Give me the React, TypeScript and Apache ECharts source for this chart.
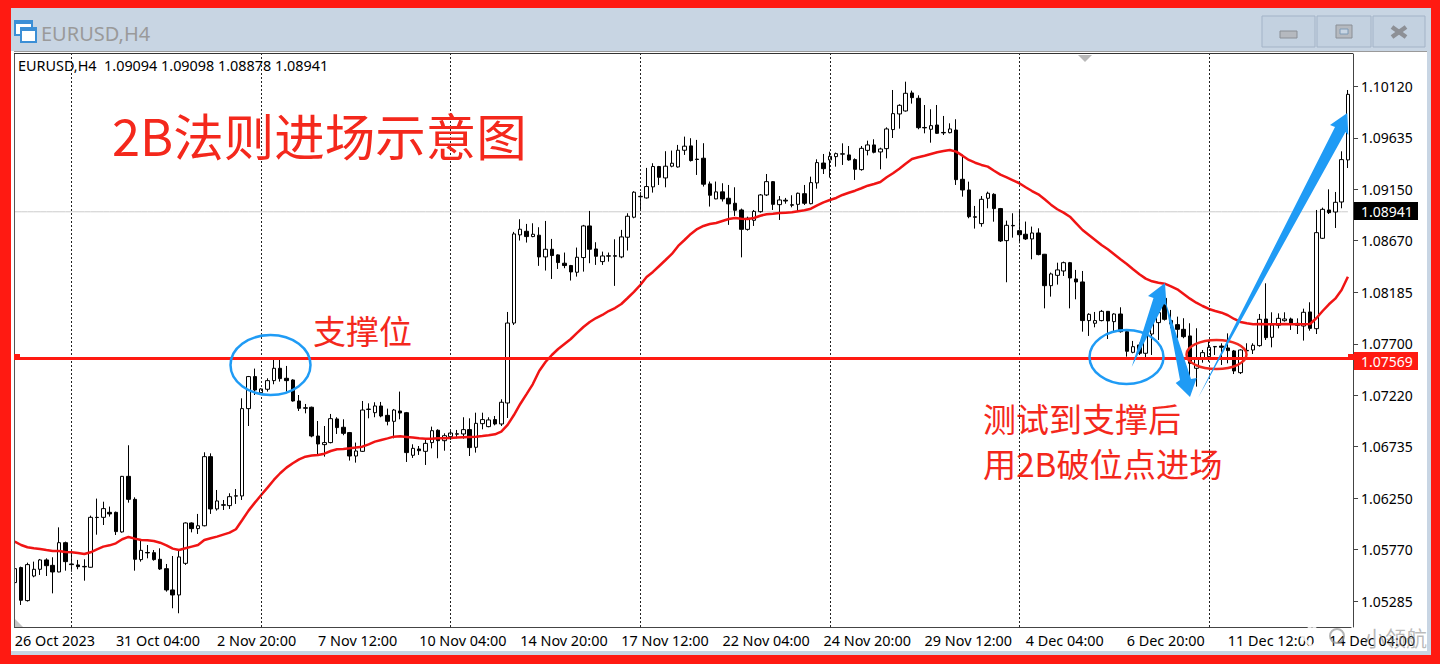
import React, { useEffect, useRef } from "react";
import * as echarts from "echarts";

const xTickLabels = ["26 Oct 2023", "31 Oct 04:00", "2 Nov 20:00", "7 Nov 12:00", "10 Nov 04:00", "14 Nov 20:00", "17 Nov 12:00", "22 Nov 04:00", "24 Nov 20:00", "29 Nov 12:00", "4 Dec 04:00", "6 Dec 20:00", "11 Dec 12:00", "14 Dec 04:00"];
const yTicks = [1.05285, 1.0577, 1.0625, 1.06735, 1.0722, 1.077, 1.08185, 1.0867, 1.0915, 1.09635, 1.1012];
const weekLines = [9, 39, 69, 99, 129, 159, 189];
const supportPrice = 1.07569;
const lastPrice = 1.08941;

const opens = [
1.05458,1.05599,1.05289,1.05520,1.05583,1.05671,1.05620,1.05558,1.05833,1.05633,
1.05624,1.05610,1.05602,1.06071,1.06071,1.06118,1.06118,1.05934,1.06456,1.06240,
1.05674,1.05741,1.05739,1.05677,1.05589,1.05389,1.05342,1.05639,1.06018,1.05965,
1.05992,1.06641,1.06150,1.06189,1.06181,1.06270,1.06272,1.07092,1.07393,1.07242,
1.07274,1.07355,1.07471,1.07377,1.07361,1.07164,1.07100,1.07105,1.06835,1.06754,
1.06773,1.06995,1.06917,1.06867,1.06647,1.06691,1.07084,1.07054,1.07117,1.07029,
1.06973,1.07070,1.07054,1.06654,1.06713,1.06691,1.06773,1.06889,1.06791,1.06829,
1.06852,1.06854,1.06895,1.06729,1.06951,1.06923,1.06989,1.06948,1.07145,1.07896,
1.08724,1.08758,1.08708,1.08721,1.08517,1.08589,1.08536,1.08458,1.08436,1.08373,
1.08511,1.08808,1.08592,1.08473,1.08524,1.08528,1.08517,1.08702,1.08890,1.09082,
1.09071,1.09175,1.09366,1.09259,1.09369,1.09362,1.09519,1.09560,1.09436,1.09444,
1.09203,1.09062,1.09128,1.09068,1.09021,1.08958,1.08776,1.08861,1.08942,1.09099,
1.09224,1.09008,1.09050,1.09007,1.09011,1.09111,1.09017,1.09212,1.09399,1.09428,
1.09459,1.09482,1.09475,1.09431,1.09337,1.09518,1.09569,1.09503,1.09534,1.09713,
1.09860,1.09888,1.10057,1.10007,1.09733,1.09716,1.09756,1.09686,1.09684,1.09709,
1.09246,1.09146,1.08894,1.08830,1.09068,1.09105,1.08971,1.08670,1.08813,1.08764,
1.08730,1.08686,1.08742,1.08542,1.08247,1.08344,1.08385,1.08463,1.08310,1.08282,
1.07919,1.07894,1.07919,1.08006,1.07909,1.07981,1.07815,1.07621,1.07690,1.07612,
1.07793,1.07900,1.08128,1.07919,1.07881,1.07837,1.07775,1.07471,1.07555,1.07580,
1.07672,1.07680,1.07662,1.07634,1.07430,1.07639,1.07643,1.07684,1.07934,1.07762,
1.07875,1.07918,1.07934,1.07893,1.07868,1.08000,1.07843,1.08692,1.08958,1.08939,1.09033,1.09428,
];

const highs = [
1.05671,1.05608,1.05645,1.05655,1.05680,1.05686,1.05696,1.05977,1.05843,1.05718,
1.05671,1.05677,1.06087,1.06247,1.06218,1.06172,1.06125,1.06460,1.06748,1.06259,
1.05858,1.05811,1.05764,1.05780,1.05633,1.05708,1.05764,1.06024,1.06024,1.06103,
1.06682,1.06672,1.06328,1.06234,1.06297,1.06337,1.07189,1.07399,1.07468,1.07283,
1.07377,1.07565,1.07555,1.07493,1.07368,1.07220,1.07136,1.07111,1.06976,1.06929,
1.07042,1.07011,1.06992,1.06873,1.06773,1.07164,1.07142,1.07152,1.07155,1.07092,
1.07089,1.07252,1.07061,1.06757,1.06741,1.06810,1.06923,1.06898,1.06860,1.06892,
1.06892,1.07011,1.07001,1.07054,1.07054,1.07011,1.07023,1.07180,1.08000,1.08752,
1.08871,1.08827,1.08833,1.08796,1.08855,1.08686,1.08542,1.08558,1.08442,1.08605,
1.08818,1.08949,1.08655,1.08567,1.08558,1.08683,1.08771,1.08927,1.09134,1.09125,
1.09353,1.09397,1.09372,1.09510,1.09516,1.09569,1.09647,1.09632,1.09616,1.09585,
1.09225,1.09225,1.09209,1.09193,1.09171,1.08971,1.08895,1.08958,1.09108,1.09296,
1.09230,1.09089,1.09071,1.09096,1.09121,1.09193,1.09271,1.09434,1.09484,1.09506,
1.09497,1.09584,1.09559,1.09443,1.09559,1.09609,1.09622,1.09543,1.09734,1.10085,
1.09951,1.10163,1.10079,1.10035,1.09944,1.09904,1.09944,1.09841,1.09772,1.09810,
1.09475,1.09224,1.08996,1.09089,1.09130,1.09115,1.08977,1.08858,1.08927,1.08958,
1.08849,1.08802,1.08786,1.08545,1.08370,1.08463,1.08473,1.08470,1.08395,1.08385,
1.07988,1.08000,1.08019,1.08009,1.07988,1.08044,1.07822,1.07728,1.07712,1.07800,
1.07909,1.08113,1.08144,1.08019,1.07956,1.07941,1.07894,1.07847,1.07643,1.07737,
1.07680,1.07706,1.07799,1.07643,1.07649,1.07706,1.07706,1.07981,1.08269,1.07997,
1.07987,1.07997,1.07947,1.07940,1.08031,1.08091,1.08958,1.08980,1.09152,1.09127,1.09509,1.10085,
];

const lows = [
1.05232,1.05248,1.05280,1.05508,1.05530,1.05520,1.05357,1.05555,1.05570,1.05561,
1.05583,1.05476,1.05599,1.05908,1.05999,1.06078,1.05905,1.05927,1.06209,1.05570,
1.05655,1.05686,1.05664,1.05577,1.05373,1.05217,1.05170,1.05624,1.05930,1.05915,
1.05986,1.06103,1.06134,1.06140,1.06150,1.06197,1.06234,1.06929,1.07220,1.07230,
1.07252,1.07321,1.07346,1.07252,1.07158,1.07070,1.07048,1.06823,1.06657,1.06641,
1.06766,1.06854,1.06842,1.06604,1.06585,1.06685,1.07001,1.07011,1.07011,1.06935,
1.06813,1.06992,1.06591,1.06629,1.06657,1.06563,1.06719,1.06626,1.06697,1.06798,
1.06813,1.06810,1.06647,1.06679,1.06898,1.06917,1.06935,1.06929,1.07004,1.07878,
1.08671,1.08652,1.08702,1.08433,1.08389,1.08310,1.08404,1.08411,1.08295,1.08332,
1.08379,1.08458,1.08442,1.08442,1.08473,1.08245,1.08505,1.08577,1.08880,1.08949,
1.09065,1.09121,1.09193,1.09171,1.09359,1.09356,1.09475,1.09413,1.09287,1.09178,
1.08990,1.09059,1.09037,1.08818,1.08902,1.08513,1.08764,1.08808,1.08933,1.09089,
1.08958,1.08864,1.09017,1.08983,1.08942,1.09005,1.09011,1.09158,1.09296,1.09262,
1.09365,1.09381,1.09421,1.09240,1.09327,1.09471,1.09490,1.09340,1.09443,1.09634,
1.09722,1.09882,1.09957,1.09716,1.09678,1.09590,1.09672,1.09662,1.09678,1.09193,
1.09083,1.08880,1.08783,1.08801,1.08974,1.08848,1.08657,1.08279,1.08698,1.08645,
1.08676,1.08495,1.08532,1.08034,1.08144,1.08257,1.08338,1.08034,1.08119,1.07815,
1.07775,1.07856,1.07912,1.07746,1.07815,1.07806,1.07580,1.07612,1.07596,1.07555,
1.07596,1.07737,1.07919,1.07847,1.07753,1.07753,1.07377,1.07299,1.07524,1.07533,
1.07596,1.07502,1.07518,1.07417,1.07417,1.07596,1.07605,1.07674,1.07737,1.07668,
1.07846,1.07909,1.07831,1.07793,1.07731,1.07824,1.07793,1.08686,1.08920,1.08789,1.08974,1.09352,
];

const closes = [
1.05589,1.05292,1.05627,1.05583,1.05671,1.05617,1.05558,1.05833,1.05655,1.05627,
1.05608,1.05606,1.06071,1.06069,1.06153,1.06103,1.05937,1.06456,1.06240,1.05677,
1.05761,1.05737,1.05674,1.05586,1.05389,1.05342,1.05699,1.06018,1.05965,1.05992,
1.06641,1.06150,1.06225,1.06185,1.06265,1.06274,1.07092,1.07393,1.07267,1.07277,
1.07355,1.07471,1.07374,1.07355,1.07164,1.07095,1.07096,1.06835,1.06760,1.06773,
1.06998,1.06914,1.06860,1.06647,1.06694,1.07079,1.07088,1.07117,1.07023,1.06973,
1.07079,1.07051,1.06679,1.06719,1.06697,1.06766,1.06885,1.06791,1.06838,1.06863,
1.06856,1.06895,1.06726,1.06954,1.06989,1.06986,1.06948,1.07152,1.07896,1.08733,
1.08777,1.08708,1.08730,1.08517,1.08589,1.08530,1.08464,1.08436,1.08376,1.08514,
1.08808,1.08589,1.08523,1.08526,1.08528,1.08524,1.08705,1.08899,1.09125,1.09086,
1.09178,1.09366,1.09265,1.09369,1.09397,1.09519,1.09557,1.09422,1.09432,1.09200,
1.09096,1.09128,1.09062,1.09015,1.08955,1.08776,1.08880,1.08945,1.09099,1.09224,
1.09011,1.09052,1.09042,1.09003,1.09115,1.09021,1.09215,1.09403,1.09346,1.09462,
1.09487,1.09486,1.09428,1.09340,1.09537,1.09569,1.09500,1.09531,1.09719,1.09863,
1.09941,1.10054,1.10013,1.09731,1.09729,1.09750,1.09678,1.09682,1.09719,1.09243,
1.09146,1.08895,1.08890,1.09058,1.09115,1.08971,1.08667,1.08814,1.08809,1.08726,
1.08686,1.08742,1.08539,1.08247,1.08357,1.08395,1.08463,1.08319,1.08282,1.07919,
1.07978,1.07919,1.08006,1.07916,1.07981,1.07815,1.07631,1.07674,1.07612,1.07784,
1.07900,1.07994,1.07931,1.07887,1.07837,1.07768,1.07518,1.07562,1.07618,1.07668,
1.07676,1.07668,1.07637,1.07446,1.07643,1.07635,1.07687,1.07931,1.07759,1.07878,
1.07940,1.07934,1.07884,1.07875,1.07997,1.07846,1.08745,1.08964,1.08933,1.09030,1.09431,1.10044,
];

const movingAverage = [
1.05843,1.05811,1.05790,1.05780,1.05774,1.05764,1.05755,1.05755,1.05746,1.05743,
1.05736,1.05727,1.05743,1.05771,1.05796,1.05808,1.05827,1.05865,1.05887,1.05871,
1.05858,1.05855,1.05849,1.05833,1.05808,1.05777,1.05764,1.05780,1.05796,1.05811,
1.05858,1.05874,1.05890,1.05909,1.05927,1.05959,1.06046,1.06134,1.06209,1.06281,
1.06350,1.06422,1.06485,1.06538,1.06579,1.06616,1.06641,1.06651,1.06657,1.06669,
1.06694,1.06710,1.06713,1.06719,1.06726,1.06735,1.06757,1.06782,1.06798,1.06813,
1.06829,1.06832,1.06826,1.06820,1.06813,1.06810,1.06810,1.06813,1.06813,1.06817,
1.06820,1.06823,1.06826,1.06829,1.06835,1.06842,1.06851,1.06876,1.06939,1.07032,
1.07136,1.07229,1.07323,1.07446,1.07530,1.07596,1.07652,1.07699,1.07746,1.07803,
1.07859,1.07906,1.07943,1.07972,1.08009,1.08037,1.08075,1.08131,1.08188,1.08253,
1.08329,1.08376,1.08432,1.08488,1.08545,1.08620,1.08676,1.08733,1.08779,1.08808,
1.08826,1.08836,1.08855,1.08873,1.08883,1.08875,1.08873,1.08883,1.08904,1.08918,
1.08923,1.08930,1.08933,1.08936,1.08946,1.08955,1.08970,1.09002,1.09030,1.09052,
1.09071,1.09099,1.09120,1.09139,1.09162,1.09186,1.09202,1.09221,1.09265,1.09303,
1.09346,1.09393,1.09437,1.09453,1.09468,1.09484,1.09500,1.09512,1.09522,1.09506,
1.09468,1.09428,1.09402,1.09381,1.09365,1.09327,1.09290,1.09265,1.09237,1.09209,
1.09171,1.09136,1.09105,1.09058,1.09008,1.08965,1.08933,1.08895,1.08833,1.08770,
1.08723,1.08676,1.08629,1.08589,1.08542,1.08495,1.08451,1.08401,1.08354,1.08313,
1.08288,1.08275,1.08266,1.08241,1.08213,1.08169,1.08125,1.08087,1.08056,1.08028,
1.08009,1.07993,1.07969,1.07934,1.07906,1.07894,1.07884,1.07886,1.07884,1.07885,
1.07884,1.07886,1.07884,1.07885,1.07884,1.07887,1.07941,1.08009,1.08072,1.08125,1.08206,1.08331,
];

const titleText = "EURUSD,H4";
const legendText = "EURUSD,H4  1.09094 1.09098 1.08878 1.08941";
const headline = "2B法则进场示意图";
const supportLabel = "支撑位";
const noteLine1 = "测试到支撑后";
const noteLine2 = "用2B破位点进场";
const watermark = "小领航";

const FONT = '"Noto Sans", sans-serif';
const CJK = '"Noto Sans CJK SC", sans-serif';
const RED = "#ff1a12";
const NOTE_RED = "#f4281c";
const BLUE = "#1f9bf5";

const rect = (x: number, y: number, w: number, h: number, fill: string, z = -10, extra: any = {}) => ({
  type: "rect", z, silent: true, shape: { x, y, width: w, height: h }, style: { fill, ...extra },
});
const poly = (points: number[][], fill: string, z = 20, extra: any = {}) => ({
  type: "polygon", z, silent: true, shape: { points }, style: { fill, ...extra },
});
const text = (x: number, y: number, t: string, size: number, fill: string, font = FONT, extra: any = {}) => ({
  type: "text", z: 30, silent: true, x, y,
  style: { text: t, fontSize: size, fontFamily: font, fill, textVerticalAlign: "middle", textBaseline: "middle", ...extra },
});
const ell = (cx: number, cy: number, rx: number, ry: number, stroke: string, w: number) => ({
  type: "ellipse", z: 20, silent: true, shape: { cx, cy, rx, ry }, style: { fill: "none", stroke, lineWidth: w },
});
const seg = (x1: number, y1: number, x2: number, y2: number, stroke: string, w: number, z = 25) => ({
  type: "line", z, silent: true, shape: { x1, y1, x2, y2 }, style: { stroke, lineWidth: w },
});

const chrome = [
  rect(11, 8, 1420, 647, "#c8d5e3"),
  rect(13, 51, 1414, 600, "#ffffff"),
  // window icon
  rect(15, 21, 17, 14, "#ffffff", 25, { stroke: "#3c8fd6", lineWidth: 2 }),
  rect(21, 28, 15, 14, "#ffffff", 26, { stroke: "#3c8fd6", lineWidth: 2 }),
  rect(15, 21, 17, 3, "#3c8fd6", 27),
  rect(21, 28, 15, 3, "#3c8fd6", 27),
  // window buttons
  rect(1262, 16, 53, 31, "#c3d1e0", 1, { stroke: "#a3b3c7", lineWidth: 1 }),
  rect(1317, 16, 54, 31, "#c3d1e0", 1, { stroke: "#a3b3c7", lineWidth: 1 }),
  rect(1373, 16, 52, 31, "#c3d1e0", 1, { stroke: "#a3b3c7", lineWidth: 1 }),
  rect(1280, 31, 17, 7, "#b5b9bf", 5, { stroke: "#8a8f96", lineWidth: 1 }),
  rect(1336, 25, 16, 13, "#b5b9bf", 5, { stroke: "#8a8f96", lineWidth: 1 }),
  rect(1340, 29, 8, 5, "#c8d5e3", 6, { stroke: "#7f9ab5", lineWidth: 1 }),
  seg(1392, 27, 1406, 37, "#8d9096", 4.5, 5),
  seg(1406, 27, 1392, 37, "#8d9096", 4.5, 5),
  // plot frame parts that the axes do not draw
  rect(11, 51, 3, 600, "#ffffff", 10),
  seg(14.5, 53.5, 14.5, 627.5, "#555555", 1, 11),
  seg(14, 53.5, 1353, 53.5, "#333333", 1, 11),
  seg(13, 51.5, 1427, 51.5, "#9a9a9a", 1, -5),
  // small triangles
  poly([[15, 619], [15, 627], [23, 627]], "#c4c4c4", 12),
  poly([[1078, 55], [1092, 55], [1085, 62]], "#b9b9b9", 12),
];

const overlays = [
  // end markers and price tags
  rect(14, 354, 6, 6, RED, 15),
  rect(1348, 354, 6, 6, RED, 15),
  rect(1354, 202, 64, 18, "#000000", 15),
  rect(1354, 352, 64, 18, RED, 15),
  text(1361, 211, lastPrice.toFixed(5), 14, "#ffffff"),
  text(1361, 361, supportPrice.toFixed(5), 14, "#ffffff"),
  // annotations
  ell(270.5, 365, 40, 30, BLUE, 2.5),
  ell(1126.5, 357, 37, 27, BLUE, 2.5),
  ell(1216.5, 354.5, 30, 14.5, "#f0281e", 2.5),
  poly([[1131.7, 367], [1153.5, 298], [1148, 296], [1165, 283], [1166.5, 306], [1164, 304]], BLUE),
  poly([[1165, 300], [1191, 379], [1196.7, 378], [1190, 397], [1175.7, 383], [1180, 380]], BLUE),
  poly([[1198, 398], [1335, 127], [1330, 125], [1347.3, 113], [1348.3, 135], [1345.5, 132]], BLUE),
  // watermark
  poly([[1302, 636], [1312, 625], [1322, 636], [1312, 647]], "none", 28, { stroke: "rgba(255,255,255,0.85)", lineWidth: 3 }),
  ell(1337, 636, 7, 7, "rgba(150,150,150,0.7)", 2),
  text(1364, 637, watermark, 21, "rgba(140,140,140,0.6)", CJK),
  // texts
  text(41, 33, titleText, 20, "#9a9a9a"),
  text(18, 65, legendText, 14.4, "#000000"),
  text(112, 134, headline, 50.5, NOTE_RED, CJK),
  text(313, 330, supportLabel, 33, NOTE_RED, CJK),
  text(983, 418, noteLine1, 33, NOTE_RED, CJK),
  text(983, 462, noteLine2, 33.2, NOTE_RED, CJK),
];

const categories = opens.map((_, i) => (i % 16 === 0 ? xTickLabels[i / 16] : String(i)));
const candles = opens.map((o, i) => [o, closes[i], lows[i], highs[i]]);
const lastPriceLine = opens.map(() => lastPrice);

export default function App() {
  const ref = useRef<HTMLDivElement>(null);
  useEffect(() => {
    const chart = echarts.init(ref.current!, null, { renderer: "svg" });
    const PITCH = 6.318;
    const option: any = {
      animation: false,
      backgroundColor: RED,
      textStyle: { fontFamily: FONT },
      grid: { left: 14.8 - PITCH / 2, top: 54, width: PITCH * opens.length, height: 573 },
      xAxis: {
        type: "category",
        data: categories,
        axisLine: { lineStyle: { color: "#444444", width: 1 } },
        axisTick: { alignWithLabel: true, length: 5, interval: (i: number) => i % 16 === 0, lineStyle: { color: "#444444" } },
        axisLabel: {
          interval: (i: number) => i % 16 === 0,
          align: "left",
          color: "#000000",
          fontSize: 14.4,
          fontFamily: FONT,
          margin: 6,
        },
        splitLine: { show: false },
      },
      yAxis: {
        type: "value",
        position: "right",
        offset: 2,
        min: 1.05041,
        max: 1.10423,
        axisLine: { show: true, lineStyle: { color: "#444444", width: 1 } },
        axisTick: { show: true, length: 5, customValues: yTicks, lineStyle: { color: "#444444" } },
        axisLabel: {
          customValues: yTicks,
          formatter: (v: number) => v.toFixed(5),
          color: "#000000",
          fontSize: 14,
          fontFamily: FONT,
          margin: 8,
        },
        splitLine: { show: false },
      },
      series: [
        {
          type: "line",
          name: "last",
          z: 1,
          silent: true,
          showSymbol: false,
          data: lastPriceLine,
          lineStyle: { color: "#cccccc", width: 1 },
          markLine: {
            silent: true,
            symbol: "none",
            animation: false,
            label: { show: false },
            lineStyle: { color: "#222222", type: [2, 2], width: 1 },
            data: weekLines.map((i) => ({ xAxis: i })),
          },
        },
        {
          type: "candlestick",
          name: "EURUSD,H4",
          z: 3,
          silent: true,
          barWidth: 4,
          data: candles,
          itemStyle: { color: "#ffffff", color0: "#000000", borderColor: "#000000", borderColor0: "#000000", borderWidth: 1 },
        },
        {
          type: "line",
          name: "MA",
          z: 4,
          silent: true,
          showSymbol: false,
          data: movingAverage,
          lineStyle: { color: "#f01414", width: 2.5 },
          markLine: {
            silent: true,
            symbol: "none",
            animation: false,
            precision: 5,
            label: { show: false },
            lineStyle: { color: RED, type: "solid", width: 3 },
            data: [{ yAxis: supportPrice }],
          },
        },
      ],
      graphic: [...chrome, ...overlays],
    };
    chart.setOption(option);
    return () => chart.dispose();
  }, []);
  return <div ref={ref} style={{ position: "fixed", left: 0, top: 0, width: 1440, height: 664 }} />;
}
